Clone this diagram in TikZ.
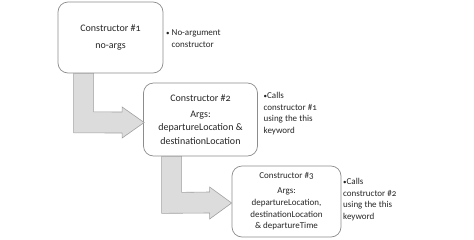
\documentclass[tikz,border=0pt]{standalone}
\usepackage{fontspec}
\setmainfont{Carlito}[Numbers=OldStyle]
\usetikzlibrary{calc}
\definecolor{boxline}{HTML}{8C8C8C}
\definecolor{arrfill}{HTML}{DCDCDC}
\definecolor{arrline}{HTML}{A0A0A0}
\begin{document}
\begin{tikzpicture}[x=1pt,y=-1pt,
  cbox/.style={draw=boxline,line width=0.7pt,rounded corners=10pt,fill=white,
    align=center,inner sep=0pt,text=black!85},
  bullettext/.style={anchor=north west,inner sep=0pt,text=black!85,align=left,
    font=\fontsize{9}{11.5}\selectfont},
  bentarrow/.style={draw=arrline,fill=arrfill,line width=0.6pt,line join=miter}]
\useasboundingbox (0,0) rectangle (474,239);
% boxes
\node[cbox,minimum width=105pt,minimum height=71pt,font=\fontsize{10}{13}\selectfont]
  (b1) at (110.5,37.5) {Constructor \#1\\[4pt]no-args};
\node[cbox,minimum width=114pt,minimum height=73pt,font=\fontsize{10}{13.5}\selectfont]
  (b2) at (200.5,119.5) {Constructor \#2\\[2pt]Args:\\departureLocation \&\\destinationLocation};
\node[cbox,minimum width=109pt,minimum height=71pt,font=\fontsize{9}{11.7}\selectfont]
  (b3) at (286.5,201.5) {Constructor \#3\\[3pt]Args:\\departureLocation,\\destinationLocation\\\& departureTime};
% bent arrows
\draw[bentarrow]
  ($(b1.south west)+(16,0)$) -- ($(b1.south west)+(16,59.5)$)
  -- ($(b2.west)+(-21,13.5)$) -- ($(b2.west)+(-21,18.5)$)
  -- ($(b2.west)+(1,3)$)
  -- ($(b2.west)+(-21,-12.5)$) -- ($(b2.west)+(-21,-7.5)$)
  -- ($(b1.south west)+(36,38.5)$) -- ($(b1.south west)+(36,0)$) -- cycle;
\draw[bentarrow]
  ($(b2.south west)+(18.5,0)$) -- ($(b2.south west)+(18.5,57)$)
  -- ($(b3.west)+(-22,11.5)$) -- ($(b3.west)+(-22,17.5)$)
  -- ($(b3.west)+(0,1.5)$)
  -- ($(b3.west)+(-22,-14.5)$) -- ($(b3.west)+(-22,-9.5)$)
  -- ($(b2.south west)+(38.5,36)$) -- ($(b2.south west)+(38.5,0)$) -- cycle;
% bullet notes
\node[bullettext] (n1) at (166,27.5)
  {\begin{tabular}{@{}l@{\hspace{2pt}}l@{}}{\scriptsize\textbullet} & No-argument\\ & constructor\end{tabular}};
\node[bullettext] (n2) at (263.5,92.5)
  {{\scriptsize\textbullet}Calls\\[-0.2pt]constructor \#1\\using the this\\keyword};
\node[bullettext] (n3) at (343,178.5)
  {{\scriptsize\textbullet}Calls\\[-0.2pt]constructor \#2\\using the this\\keyword};
\end{tikzpicture}
\end{document}
